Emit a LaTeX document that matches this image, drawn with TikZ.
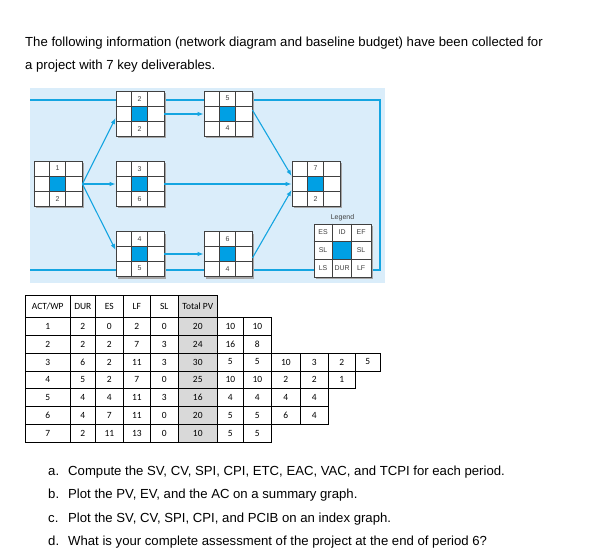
\documentclass[tikz,border=0pt]{standalone}
\usepackage{fontspec}
\setmainfont{Liberation Sans}
\newfontfamily\tabfont{Carlito}
\usetikzlibrary{calc,arrows.meta}
\definecolor{bgblue}{RGB}{218,237,250}
\definecolor{lineblue}{RGB}{20,165,225}
\definecolor{fillblue}{RGB}{0,160,228}
\definecolor{pvgray}{RGB}{217,217,217}
\tikzset{
  box/.style={draw=black!75,fill=white,line width=0.8pt,minimum width=48bp,minimum height=45bp,inner sep=0pt},
  arr/.style={draw=lineblue,line width=1.1pt,-{Latex[length=6bp,width=4.5bp]}},
  small/.style={font=\fontsize{7}{8}\selectfont,text=black!75},
  txt/.style={font=\fontsize{13.2}{15}\selectfont,anchor=base west,inner sep=0pt},
  cell/.style={draw=black,line width=0.7pt,font=\tabfont\fontsize{9.5}{10}\selectfont,inner sep=0pt,anchor=north west}
}
\newcommand{\gbox}[5]{% name,x,y,top,bottom
  \fill[black!35] (#2-24+2,#3-22.5+2) rectangle (#2+24+2,#3+22.5+2);
  \node[box] (#1) at (#2,#3) {};
  \fill[fillblue] ($(#1.north west)+(16,15)$) rectangle ($(#1.north west)+(32,30)$);
  \draw[black!75,line width=0.7pt] ($(#1.north west)+(16,0)$) -- ($(#1.south west)+(16,0)$)
     ($(#1.north west)+(32,0)$) -- ($(#1.south west)+(32,0)$)
     ($(#1.north west)+(0,15)$) -- ($(#1.north east)+(0,15)$)
     ($(#1.north west)+(0,30)$) -- ($(#1.north east)+(0,30)$);
  \node[small] (#1t) at ($(#1.north west)+(24,7.5)$) {#4};
  \node[small] (#1b) at ($(#1.north west)+(24,37.5)$) {#5};
}
\begin{document}
\begin{tikzpicture}[x=1bp,y=-1bp]
\useasboundingbox[fill=white] (0,0) rectangle (601,559);
\node[txt] (t1) at (25,47) {The following information (network diagram and baseline budget) have been collected for};
\node[txt] (t2) at (25,70) {a project with 7 key deliverables.};
\fill[bgblue] (30,88) rectangle (385,283);
\draw[lineblue,line width=1.1pt] (30,100) -- (380,100) -- (380,270) -- (30,270);
\gbox{n2}{140}{114}{2}{2}
\gbox{n5}{228}{114}{5}{4}
\gbox{n1}{58}{184}{1}{2}
\gbox{n3}{140}{184}{3}{6}
\gbox{n7}{316}{184}{7}{2}
\gbox{n4}{140}{254}{4}{5}
\gbox{n6}{228}{254}{6}{4}
\draw[arr] (n1.east) -- ($(n2.west)+(0,4)$);
\draw[arr] (n1.east) -- (n3.west);
\draw[arr] (n1.east) -- ($(n4.west)+(0,-4)$);
\draw[arr] (n2.east) -- (n5.west);
\draw[arr] (n4.east) -- (n6.west);
\draw[arr] (n3.east) -- (n7.west);
\draw[arr] ($(n5.east)+(0,-4)$) -- ($(n7.west)+(0,-8)$);
\draw[arr] ($(n6.east)+(0,4)$) -- ($(n7.west)+(0,6)$);
\fill[black!35] (316,226) rectangle (373,279);
\node[draw=black!75,line width=0.8pt,fill=white,minimum width=57bp,minimum height=53bp,inner sep=0pt] (lg) at (342.5,250.5) {};
\fill[fillblue] ($(lg.north west)+(19,17.7)$) rectangle ($(lg.north west)+(38,35.3)$);
\draw[black!75,line width=0.7pt] ($(lg.north west)+(19,0)$) -- ($(lg.south west)+(19,0)$)
  ($(lg.north west)+(38,0)$) -- ($(lg.south west)+(38,0)$)
  ($(lg.north west)+(0,17.7)$) -- ($(lg.north east)+(0,17.7)$)
  ($(lg.north west)+(0,35.3)$) -- ($(lg.north east)+(0,35.3)$);
\node[small] (lgt) at (342.5,218) {Legend};
\node[small] (l1) at ($(lg.north west)+(9.5,8.8)$) {ES};
\node[small] (l2) at ($(lg.north west)+(28.5,8.8)$) {ID};
\node[small] (l3) at ($(lg.north west)+(47.5,8.8)$) {EF};
\node[small] (l4) at ($(lg.north west)+(9.5,26.5)$) {SL};
\node[small] (l5) at ($(lg.north west)+(47.5,26.5)$) {SL};
\node[small] (l6) at ($(lg.north west)+(9.5,44.2)$) {LS};
\node[small] (l7) at ($(lg.north west)+(28.5,44.2)$) {DUR};
\node[small] (l8) at ($(lg.north west)+(47.5,44.2)$) {LF};
\def\cx{{25,70,95,123,150,178,217,243,271,300,328,355,380}}
\fill[pvgray] (178,295) rectangle (217,442);
\foreach \lab [count=\i from 0] in {ACT/WP,DUR,ES,LF,SL,Total PV}{
  \pgfmathsetmacro{\xa}{\cx[\i]}\pgfmathsetmacro{\xb}{\cx[\i+1]}
  \node[cell,minimum width=\xb-\xa,minimum height=22] (h\i) at (\xa,295) {\lab};
}
\foreach \row [count=\r from 1] in {
 {1,2,0,2,0,20,10,10},
 {2,2,2,7,3,24,16,8},
 {3,6,2,11,3,30,5,5,10,3,2,5},
 {4,5,2,7,0,25,10,10,2,2,1},
 {5,4,4,11,3,16,4,4,4,4},
 {6,4,7,11,0,20,5,5,6,4},
 {7,2,11,13,0,10,5,5}}{
  \foreach \v [count=\i from 0] in \row {
    \pgfmathsetmacro{\xa}{\cx[\i]}\pgfmathsetmacro{\xb}{\cx[\i+1]}
    \pgfmathsetmacro{\ya}{317+(\r-1)*17.86}
    \node[cell,minimum width=\xb-\xa,minimum height=17.86] (c\r-\i) at (\xa,\ya) {\v};
  }
}
\foreach \l/\t [count=\k from 0] in {a./{Compute the SV, CV, SPI, CPI, ETC, EAC, VAC, and TCPI for each period.},
  b./{Plot the PV, EV, and the AC on a summary graph.},
  c./{Plot the SV, CV, SPI, CPI, and PCIB on an index graph.},
  d./{What is your complete assessment of the project at the end of period 6?}}{
  \node[txt] (q\k) at (48,475+\k*23.5) {\l};
  \node[txt] (qt\k) at (68,475+\k*23.5) {\t};
}
\end{tikzpicture}
\end{document}
